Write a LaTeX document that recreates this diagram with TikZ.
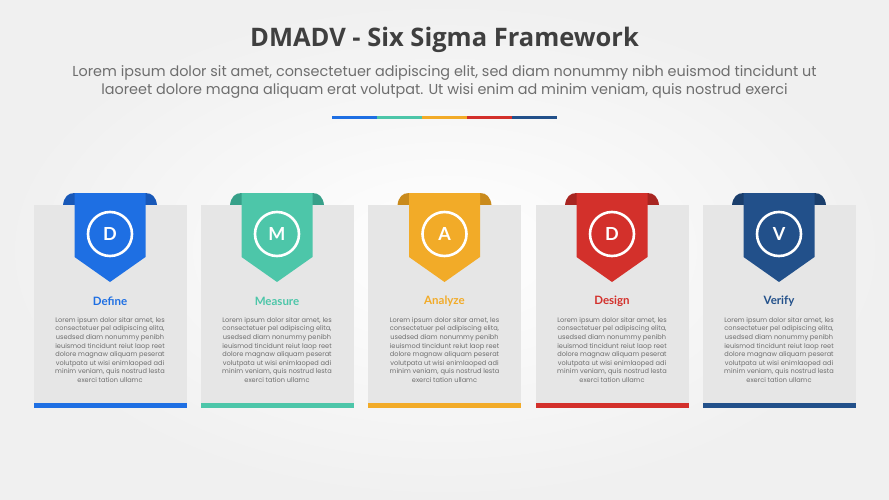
\documentclass[tikz,border=0pt]{standalone}
\usepackage{fontspec}
\setmainfont{Poppins}
\newfontfamily\titlefont{Open Sans}
\newfontfamily\labelfont{Lato}

\definecolor{cBlue}{HTML}{1E6FE3}
\definecolor{cBlueD}{HTML}{1858B8}
\definecolor{cTeal}{HTML}{4DC6A9}
\definecolor{cTealD}{HTML}{37A089}
\definecolor{cAmber}{HTML}{F2AB28}
\definecolor{cAmberD}{HTML}{C98A1C}
\definecolor{cRed}{HTML}{D3302B}
\definecolor{cRedD}{HTML}{A82521}
\definecolor{cNavy}{HTML}{22508A}
\definecolor{cNavyD}{HTML}{1A3E6C}
\definecolor{cardgray}{HTML}{E6E6E6}
\definecolor{bgedge}{HTML}{F0F0F0}
\definecolor{titlegray}{HTML}{3F3F3F}
\definecolor{textgray}{HTML}{6E6E6E}

\tikzset{
  card/.style={fill=cardgray, minimum width=153pt, minimum height=198pt, inner sep=0pt},
  cardbar/.style={minimum width=153pt, minimum height=4.5pt, inner sep=0pt},
  badge/.style={circle, draw=white, line width=2.6pt, minimum size=44pt, inner sep=0pt,
    text=white, font=\labelfont\bfseries\fontsize{18}{18}\selectfont},
  steplabel/.style={font=\labelfont\bfseries\fontsize{11.5}{12}\selectfont},
  bodytext/.style={align=center, text=textgray, font=\fontsize{6.6}{8.6}\selectfont},
}

\begin{document}
\begin{tikzpicture}[x=1pt,y=-1pt]
\useasboundingbox (0,0) rectangle (889,500);
\shade[inner color=white, outer color=bgedge] (0,0) rectangle (889,500);

% heading
\node[font=\titlefont\bfseries\fontsize{25.5}{30}\selectfont, text=titlegray] (title) at (444.5,40) {DMADV - Six Sigma Framework};
\node[align=center, text=textgray, font=\fontsize{14.4}{18}\selectfont] (subtitle) at (444.5,82)
  {Lorem ipsum dolor sit amet, consectetuer adipiscing elit, sed diam nonummy nibh euismod tincidunt ut\\
   laoreet dolore magna aliquam erat volutpat. Ut wisi enim ad minim veniam, quis nostrud exerci};
\fill[cBlue] (332,116) rectangle (377,119.5);
\fill[cTeal] (377,116) rectangle (422,119.5);
\fill[cAmber] (422,116) rectangle (467,119.5);
\fill[cRed] (467,116) rectangle (512,119.5);
\fill[cNavy] (512,116) rectangle (557,119.5);

% define
\fill[cBlueD] (63,205) .. controls (64,197) and (68,193) .. (74.5,193) -- (145.5,193) .. controls (152,193) and (156,197) .. (157,205) -- cycle;
\node[card] (define) at (110,304) {};
\node[cardbar, fill=cBlue] (define bar) at (110,405.5) {};
\fill[cBlue] (74.5,193) -- (145.5,193) -- (145.5,257) -- (110,282) -- (74.5,257) -- cycle;
\node[badge] (define badge) at (110,234) {D};
\node[steplabel, text=cBlue] (define label) at (110,301) {Define};
\node[bodytext] (define text) at (110,350) {Lorem ipsum dolor sitar amet, les\\consectetuer pel adipiscing elita,\\usedsed diam nonummy penibh\\ieuismod tincidunt reiut laop reet\\dolore magnaw aliquam peserat\\volutpata ut wisi enimlaoped adi\\minim veniam, quis nostrud lesta\\exerci tation ullamc};

% measure
\fill[cTealD] (230,205) .. controls (231,197) and (235,193) .. (241.5,193) -- (312.5,193) .. controls (319,193) and (323,197) .. (324,205) -- cycle;
\node[card] (measure) at (277,304) {};
\node[cardbar, fill=cTeal] (measure bar) at (277,405.5) {};
\fill[cTeal] (241.5,193) -- (312.5,193) -- (312.5,257) -- (277,282) -- (241.5,257) -- cycle;
\node[badge] (measure badge) at (277,234) {M};
\node[steplabel, text=cTeal] (measure label) at (277,301) {Measure};
\node[bodytext] (measure text) at (277,350) {Lorem ipsum dolor sitar amet, les\\consectetuer pel adipiscing elita,\\usedsed diam nonummy penibh\\ieuismod tincidunt reiut laop reet\\dolore magnaw aliquam peserat\\volutpata ut wisi enimlaoped adi\\minim veniam, quis nostrud lesta\\exerci tation ullamc};

% analyze
\fill[cAmberD] (397.5,205) .. controls (398.5,197) and (402.5,193) .. (409,193) -- (480,193) .. controls (486.5,193) and (490.5,197) .. (491.5,205) -- cycle;
\node[card] (analyze) at (444.5,304) {};
\node[cardbar, fill=cAmber] (analyze bar) at (444.5,405.5) {};
\fill[cAmber] (409,193) -- (480,193) -- (480,257) -- (444.5,282) -- (409,257) -- cycle;
\node[badge] (analyze badge) at (444.5,234) {A};
\node[steplabel, text=cAmber] (analyze label) at (444.5,301) {Analyze};
\node[bodytext] (analyze text) at (444.5,350) {Lorem ipsum dolor sitar amet, les\\consectetuer pel adipiscing elita,\\usedsed diam nonummy penibh\\ieuismod tincidunt reiut laop reet\\dolore magnaw aliquam peserat\\volutpata ut wisi enimlaoped adi\\minim veniam, quis nostrud lesta\\exerci tation ullamc};

% design
\fill[cRedD] (565,205) .. controls (566,197) and (570,193) .. (576.5,193) -- (647.5,193) .. controls (654,193) and (658,197) .. (659,205) -- cycle;
\node[card] (design) at (612,304) {};
\node[cardbar, fill=cRed] (design bar) at (612,405.5) {};
\fill[cRed] (576.5,193) -- (647.5,193) -- (647.5,257) -- (612,282) -- (576.5,257) -- cycle;
\node[badge] (design badge) at (612,234) {D};
\node[steplabel, text=cRed] (design label) at (612,301) {Design};
\node[bodytext] (design text) at (612,350) {Lorem ipsum dolor sitar amet, les\\consectetuer pel adipiscing elita,\\usedsed diam nonummy penibh\\ieuismod tincidunt reiut laop reet\\dolore magnaw aliquam peserat\\volutpata ut wisi enimlaoped adi\\minim veniam, quis nostrud lesta\\exerci tation ullamc};

% verify
\fill[cNavyD] (732,205) .. controls (733,197) and (737,193) .. (743.5,193) -- (814.5,193) .. controls (821,193) and (825,197) .. (826,205) -- cycle;
\node[card] (verify) at (779,304) {};
\node[cardbar, fill=cNavy] (verify bar) at (779,405.5) {};
\fill[cNavy] (743.5,193) -- (814.5,193) -- (814.5,257) -- (779,282) -- (743.5,257) -- cycle;
\node[badge] (verify badge) at (779,234) {V};
\node[steplabel, text=cNavy] (verify label) at (779,301) {Verify};
\node[bodytext] (verify text) at (779,350) {Lorem ipsum dolor sitar amet, les\\consectetuer pel adipiscing elita,\\usedsed diam nonummy penibh\\ieuismod tincidunt reiut laop reet\\dolore magnaw aliquam peserat\\volutpata ut wisi enimlaoped adi\\minim veniam, quis nostrud lesta\\exerci tation ullamc};
\end{tikzpicture}
\end{document}
